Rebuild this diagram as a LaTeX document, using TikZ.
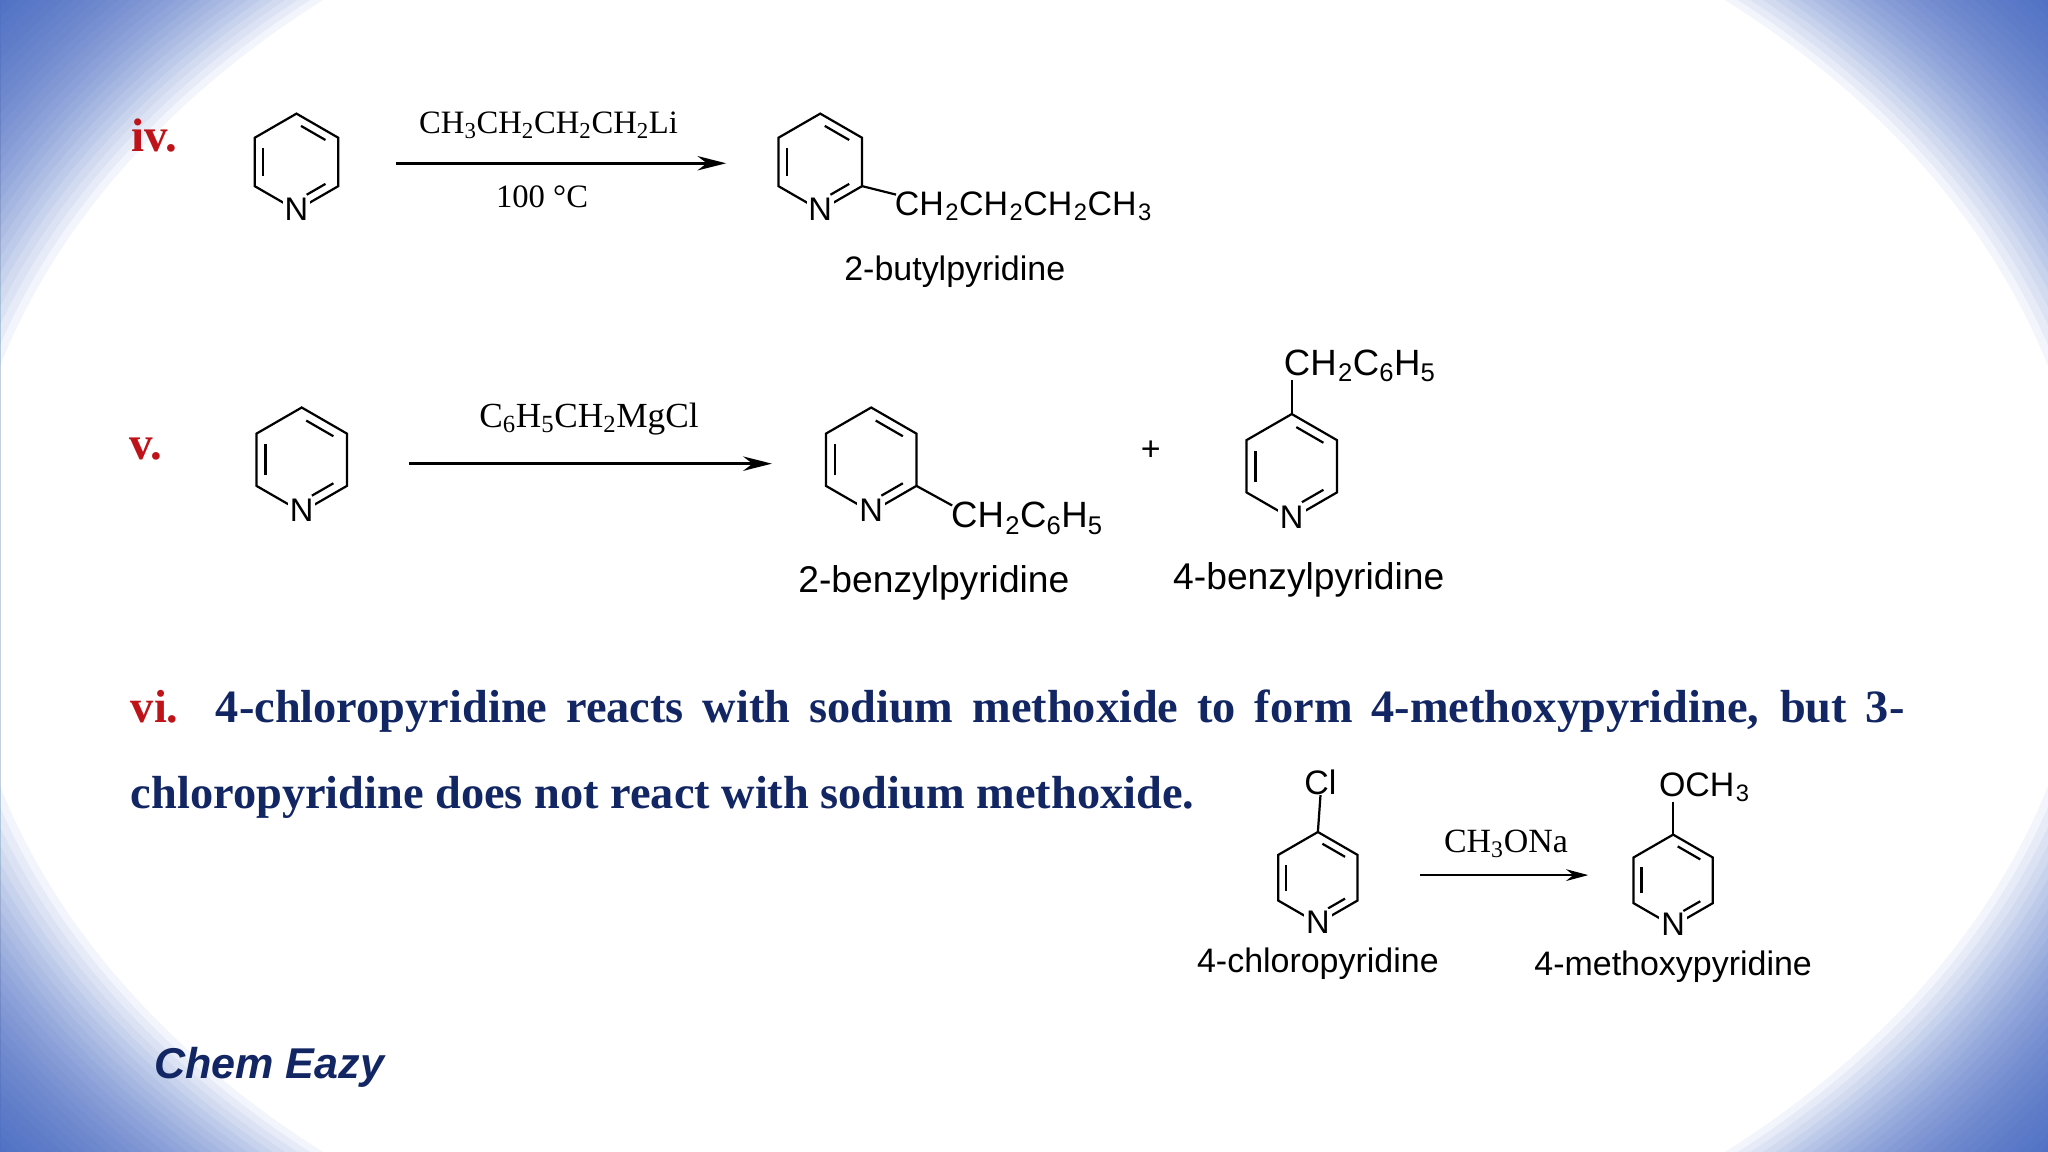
\documentclass[tikz,border=0pt]{standalone}
\usepackage{fontspec}
\setmainfont{Liberation Serif}
\newfontfamily\chsans{Liberation Sans}
\usetikzlibrary{calc,arrows.meta}
\definecolor{redlab}{RGB}{190,20,25}
\definecolor{navy}{RGB}{18,38,100}
\definecolor{vC}{RGB}{50,90,190}
\newcommand\pyring[4]{%
  \coordinate (#1c) at (#2,#3);
  \foreach \a/\n in {-90/t,-30/ur,30/lr,90/n,150/ll,210/ul}{\coordinate (#1\n) at ($(#1c)+(\a:#4)$);}
  \draw[bond] (#1t)--(#1ur)--(#1lr)--(#1n)--(#1ll)--(#1ul)--cycle;
  \draw[bond,shorten <=4pt,shorten >=4pt] ($(#1c)!0.8!(#1t)$)--($(#1c)!0.8!(#1ur)$);
  \draw[bond,shorten <=4pt,shorten >=4pt] ($(#1c)!0.8!(#1ll)$)--($(#1c)!0.8!(#1ul)$);
  \draw[bond,shorten <=4pt,shorten >=9pt] ($(#1c)!0.8!(#1lr)$)--($(#1c)!0.8!(#1n)$);
  \node[fill=white,inner sep=1.5pt,font=\chsans\fontsize{25}{25}\selectfont] (#1N) at ($(#1n)+(0,-1)$) {N};
}
\newcommand\sbs[1]{\kern1pt\textsubscript{#1}}
\tikzset{bond/.style={line width=1.7pt,line join=miter},
 rx/.style={line width=2pt,-{Stealth[length=22pt,width=11pt]}},
 reag/.style={font=\fontsize{25}{25}\selectfont},
 sub/.style={font=\chsans\fontsize{26}{26}\selectfont,inner sep=0pt},
 nm/.style={font=\chsans\fontsize{26}{26}\selectfont},
 lab/.style={font=\bfseries\fontsize{36}{36}\selectfont,text=redlab}}
\begin{document}
\begin{tikzpicture}[x=1pt,y=-1pt]
\useasboundingbox (0,0) rectangle (1568,882);
\fill[white] (0,0) rectangle (1568,882);
\foreach \i in {0,...,29}{
  \fill[vC,fill opacity=0.06,even odd rule] (0,0) rectangle (1568,882) (784,441) ellipse ({815+6.5*\i} and {0.719*(815+6.5*\i)});
}
% iv
\node[lab] (liv) at (118,104) {iv.};
\pyring{A}{227}{124}{37}
\node[reag] (r1) at (420,96) {CH\textsubscript{3}CH\textsubscript{2}CH\textsubscript{2}CH\textsubscript{2}Li};
\node[reag] (r1b) at (415,151) {100 °C};
\coordinate (a1s) at (303,125); \coordinate (a1e) at (556,125);
\draw[rx] (a1s) -- (a1e);
\pyring{B}{628}{124}{37}
\node[sub,anchor=west] (s1) at (685,158) {CH\sbs{2}CH\sbs{2}CH\sbs{2}CH\sbs{3}};
\draw[bond] (Blr) -- ($(s1.west)+(1,-9)$);
\node[nm] (n1) at (731,208) {2-butylpyridine};
% v
\node[lab] (lv) at (112,344) {v.};
\pyring{C}{231}{352}{40}
\node[reag,font=\fontsize{27}{27}\selectfont] (r2) at (451,321) {C\textsubscript{6}H\textsubscript{5}CH\textsubscript{2}MgCl};
\coordinate (a2s) at (313,355); \coordinate (a2e) at (591,355);
\draw[rx] (a2s) -- (a2e);
\pyring{D}{667}{352}{40}
\node[sub,anchor=west,font=\chsans\fontsize{28}{28}\selectfont] (s2) at (728,397) {CH\sbs{2}C\textsubscript{6}H\textsubscript{5}};
\draw[bond] (Dlr) -- ($(s2.west)+(1,-10)$);
\node[nm,font=\chsans\fontsize{28.5}{28.5}\selectfont] (n2) at (715,446) {2-benzylpyridine};
\node[font=\chsans\fontsize{26}{26}\selectfont] (plus) at (881,345) {+};
\pyring{E}{989}{357}{40}
\node[sub,font=\chsans\fontsize{28}{28}\selectfont] (s3) at (1041,280) {CH\sbs{2}C\textsubscript{6}H\textsubscript{5}};
\coordinate (s3b) at (989,291);
\draw[bond] (Et) -- (s3b);
\node[nm,font=\chsans\fontsize{28.5}{28.5}\selectfont] (n3) at (1002,444) {4-benzylpyridine};
% vi
\node[anchor=base west,inner sep=0pt,font=\bfseries\fontsize{35.5}{35.5}\selectfont,text=navy] (t1) at (100,553)
 {\makebox[1358pt][s]{\textcolor{redlab}{vi.} 4-chloropyridine reacts with sodium methoxide to form 4-methoxypyridine, but 3-}};
\node[anchor=base west,inner sep=0pt,font=\bfseries\fontsize{35.5}{35.5}\selectfont,text=navy] (t2) at (100,619)
 {chloropyridine does not react with sodium methoxide.};
\pyring{F}{1009}{672}{35}
\node[sub] (cl) at (1011,599) {Cl};
\draw[bond] (Ft) -- (cl.south);
\node[reag,font=\fontsize{26}{26}\selectfont] (r3) at (1153,646) {CH\textsubscript{3}ONa};
\coordinate (a3s) at (1087,670); \coordinate (a3e) at (1216,670);
\draw[line width=1.8pt,-{Stealth[length=17pt,width=9pt]}] (a3s) -- (a3e);
\pyring{G}{1281}{674}{35}
\node[sub,anchor=south west] (och) at (1270,614) {OCH\sbs{3}};
\draw[bond] (Gt) -- ($(och.south west)+(11,0)$);
\node[nm] (n4) at (1009,738) {4-chloropyridine};
\node[nm] (n5) at (1281,740) {4-methoxypyridine};
\node[font=\chsans\bfseries\itshape\fontsize{33}{33}\selectfont,text=navy] (logo) at (206,817) {Chem Eazy};
\end{tikzpicture}
\end{document}
